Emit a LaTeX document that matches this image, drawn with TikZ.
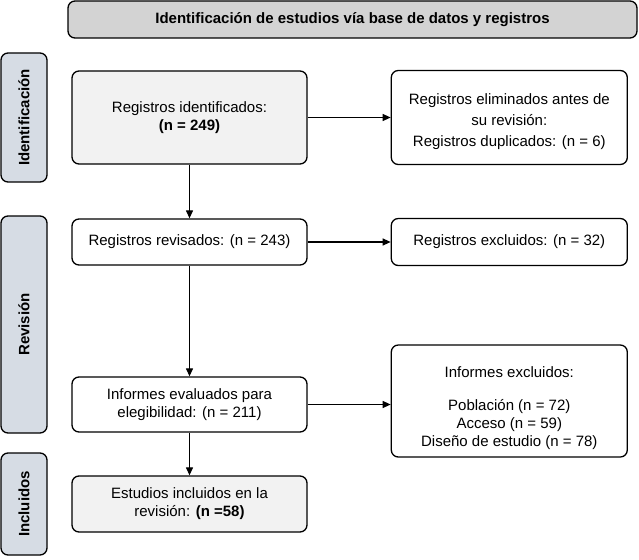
\documentclass[tikz,border=0pt]{standalone}
\usepackage{fontspec}
\setmainfont{Liberation Sans}
\usepackage{xcolor}
\usetikzlibrary{arrows.meta,positioning}
\definecolor{headgray}{HTML}{D3D3D3}
\definecolor{phasegray}{HTML}{D6DCE4}
\definecolor{boxgray}{HTML}{F2F2F2}

\begin{document}
\begin{tikzpicture}[
    x=1pt, y=-1pt,
    font=\fontsize{15}{18}\selectfont,
    box/.style={rectangle, draw=black, line width=1.3pt, rounded corners=7pt, align=center, inner sep=2pt},
    leftbox/.style={box, minimum width=235pt},
    rightbox/.style={box, minimum width=236pt},
    phase/.style={box, fill=phasegray, rotate=90, minimum height=46pt, font=\fontsize{15}{18}\selectfont\bfseries},
    header/.style={box, fill=headgray, minimum width=569pt, minimum height=37pt, font=\fontsize{15}{18}\selectfont\bfseries},
    arrow/.style={-{Triangle[length=8pt,width=7pt]}, line width=1.2pt}
]
\useasboundingbox (0,0) rectangle (639,559);

% Header
\node[header] (head) at (352.5,19.5) {Identificación de estudios vía base de datos y registros};

% Phases
\node[phase, minimum width=129pt] (phident) at (24,117.5) {Identificación};
\node[phase, minimum width=217pt] (phrevis) at (24,324.5) {Revisión};
\node[phase, minimum width=102pt] (phincl) at (24,504) {Incluidos};

% Main flow
\node[leftbox, fill=boxgray, minimum height=93pt] (ident) at (189.5,117.5) {Registros identificados:\\\textbf{(n = 249)}};
\node[leftbox, minimum height=46pt] (revis) at (189.5,242) {Registros revisados: (n = 243)};
\node[leftbox, minimum height=55pt] (evalu) at (189.5,404.5) {Informes evaluados para\\elegibilidad: (n = 211)};
\node[leftbox, fill=boxgray, minimum height=56pt] (incl) at (189.5,504) {Estudios incluidos en la\\revisión: \textbf{(n =58)}};

% Removed records
\node[rightbox, minimum height=94pt, font=\fontsize{15}{21}\selectfont, right=83pt of ident] (elim) {\rule{0pt}{19pt}Registros eliminados antes de\\su revisión:\\Registros duplicados: (n = 6)};
\node[rightbox, minimum height=47pt, right=83pt of revis] (excl) {Registros excluidos: (n = 32)};
\node[rightbox, minimum height=112pt, right=83pt of evalu, yshift=3.5pt] (inexcl) {\rule{0pt}{25pt}Informes excluidos:\\[15pt]Población (n = 72)\\Acceso (n = 59)\\Diseño de estudio (n = 78)};

% Connections
\draw[arrow] (ident) -- (revis);
\draw[arrow] (revis) -- (evalu);
\draw[arrow] (evalu) -- (incl);
\draw[arrow] (ident) -- (elim);
\draw[arrow] (revis) -- (excl);
\draw[arrow] (evalu.east) -- (evalu.east -| inexcl.west);

\end{tikzpicture}
\end{document}
